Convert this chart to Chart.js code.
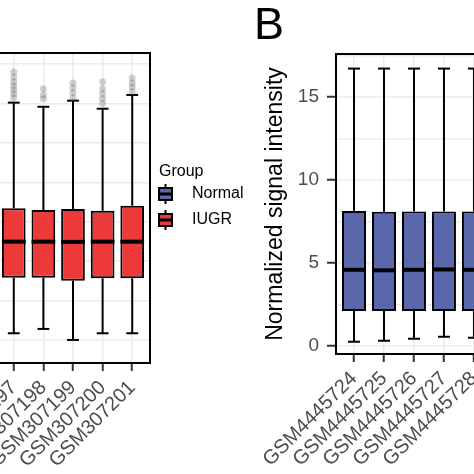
<!DOCTYPE html>
<html>
<head>
<meta charset="utf-8">
<script src="https://cdn.jsdelivr.net/npm/chart.js@4.4.1/dist/chart.umd.min.js"></script>
<style>
  html, body { margin: 0; padding: 0; background: #fff; overflow: hidden; width: 474px; height: 474px; }
  #left { position: absolute; left: -100px; top: 0; }
  #right { position: absolute; left: 250px; top: 0; }
</style>
</head>
<body>
<canvas id="left" width="350" height="474"></canvas>
<canvas id="right" width="400" height="474"></canvas>
<script>
// Panel A: IUGR samples (only the right part of the panel is in view)
const leftSamples = ["GSM307197", "GSM307198", "GSM307199", "GSM307200", "GSM307201"];
const leftPos = [1, 2, 3, 4, 5];
const leftLow = [2.34, 2.56, 2.0, 2.34, 2.34];
const leftQ1 = [5.16, 5.16, 5.01, 5.13, 5.13];
const leftMedian = [6.99, 6.99, 6.98, 6.99, 6.99];
const leftQ3 = [8.69, 8.60, 8.65, 8.56, 8.82];
const leftHigh = [14.05, 13.84, 14.15, 13.74, 14.44];
const leftOutliers = [
  [14.3, 14.5, 14.7, 14.9, 15.1, 15.35, 15.6],
  [14.25, 14.45, 14.75],
  [14.3, 14.55, 14.8, 15.05],
  [14.0, 14.25, 14.5, 14.75, 15.1],
  [14.6, 14.85, 15.05, 15.3]
];
const leftYTicks = [2, 4, 6, 8, 10, 12, 14, 16];

// Panel B: Normal samples
const rightSamples = ["GSM4445724", "GSM4445725", "GSM4445726", "GSM4445727", "GSM4445728"];
const rightPos = [1, 2, 3, 4, 5];
const rightLow = [0.24, 0.3, 0.42, 0.54, 0.48];
const rightQ1 = [2.1, 2.1, 2.1, 2.1, 2.1];
const rightMedian = [4.58, 4.55, 4.58, 4.6, 4.58];
const rightQ3 = [8.13, 8.08, 8.1, 8.1, 8.1];
const rightHigh = [16.72, 16.72, 16.72, 16.72, 16.72];
const rightYTicks = [0, 2.5, 5, 7.5, 10, 12.5, 15, 17.5];
const rightYLabels = ["0", "", "5", "", "10", "", "15", ""];

const groups = ["Normal", "IUGR"];
const groupColors = ["#5A67AA", "#EC3A3A"];

const FONT = '"Liberation Sans", Arial, Helvetica, sans-serif';
const GRID = "#EBEBEB";
const TICK = "#333333";

// whiskers, caps, outliers, medians and panel frame, all through the chart scales
function makeBoxPlugin(d) {
  return {
    id: "boxParts",
    beforeDatasetsDraw(chart) {
      const { ctx, chartArea, scales: { x, y } } = chart;
      const step = x.getPixelForValue(2) - x.getPixelForValue(1);
      ctx.save();
      ctx.beginPath();
      ctx.rect(chartArea.left, chartArea.top, chartArea.width, chartArea.height);
      ctx.clip();
      ctx.strokeStyle = "#000";
      ctx.lineWidth = 2;
      d.pos.forEach((p, i) => {
        const px = x.getPixelForValue(p);
        const cap = step * 0.2;
        [[d.q3[i], d.high[i]], [d.q1[i], d.low[i]]].forEach(([a, b]) => {
          const ya = y.getPixelForValue(a), yb = y.getPixelForValue(b);
          ctx.beginPath(); ctx.moveTo(px, ya); ctx.lineTo(px, yb); ctx.stroke();
          ctx.beginPath(); ctx.moveTo(px - cap, yb); ctx.lineTo(px + cap, yb); ctx.stroke();
        });
        ((d.outliers && d.outliers[i]) || []).forEach(v => {
          ctx.beginPath();
          ctx.arc(px, y.getPixelForValue(v), 3.5, 0, Math.PI * 2);
          ctx.fillStyle = "rgba(100,100,100,0.3)";
          ctx.fill();
        });
      });
      ctx.restore();
    },
    afterDatasetsDraw(chart) {
      const { ctx, chartArea, scales: { x, y } } = chart;
      const bars = chart.getDatasetMeta(0).data;
      ctx.save();
      ctx.strokeStyle = "#000";
      ctx.lineWidth = 4;
      d.pos.forEach((p, i) => {
        const px = x.getPixelForValue(p);
        const w = bars[i].width / 2;
        const ym = y.getPixelForValue(d.median[i]);
        ctx.beginPath(); ctx.moveTo(px - w, ym); ctx.lineTo(px + w, ym); ctx.stroke();
      });
      ctx.lineWidth = 2;
      ctx.strokeRect(chartArea.left, chartArea.top, chartArea.width, chartArea.height);
      ctx.restore();
    }
  };
}

// legend for panel A, drawn at the right of its plot area
const groupLegend = {
  id: "groupLegend",
  afterDraw(chart) {
    const ctx = chart.ctx;
    const x0 = chart.chartArea.right + 9;
    ctx.save();
    ctx.fillStyle = "#000";
    ctx.font = "16px " + FONT;
    ctx.textBaseline = "middle";
    ctx.fillText("Group", x0, 172);
    groups.forEach((g, i) => {
      const cy = 194 + i * 26;
      const cx = x0 + 6.5;
      ctx.strokeStyle = "#000";
      ctx.lineWidth = 2;
      ctx.beginPath(); ctx.moveTo(cx, cy - 10); ctx.lineTo(cx, cy + 10); ctx.stroke();
      ctx.fillStyle = groupColors[i];
      ctx.fillRect(x0, cy - 6, 13, 12);
      ctx.strokeRect(x0, cy - 6, 13, 12);
      ctx.lineWidth = 3;
      ctx.beginPath(); ctx.moveTo(x0, cy); ctx.lineTo(x0 + 13, cy); ctx.stroke();
      ctx.fillStyle = "#000";
      ctx.fillText(g, x0 + 33, cy);
    });
    ctx.restore();
  }
};

function xTickFont() { return { family: FONT, size: 20 }; }
function yTickFont() { return { family: FONT, size: 19 }; }

// Panel A
new Chart(document.getElementById("left"), {
  type: "bar",
  data: {
    datasets: [{
      data: leftPos.map((p, i) => ({ x: p, y: [leftQ1[i], leftQ3[i]] })),
      backgroundColor: groupColors[1],
      borderColor: "#000",
      borderWidth: 2,
      borderSkipped: false,
      barPercentage: 0.8,
      categoryPercentage: 1
    }]
  },
  options: {
    responsive: false,
    animation: false,
    layout: { padding: { left: 0, top: 53, right: 100, bottom: 0 } },
    plugins: { legend: { display: false }, tooltip: { enabled: false } },
    scales: {
      x: {
        type: "linear", min: 0.4, max: 5.6, offset: false,
        afterBuildTicks: s => { s.ticks = leftPos.map(v => ({ value: v })); },
        ticks: {
          autoSkip: false, minRotation: 45, maxRotation: 45, color: "#4D4D4D", font: xTickFont(), padding: 5,
          callback: v => leftSamples[leftPos.indexOf(v)] || ""
        },
        grid: { offset: false, color: GRID, lineWidth: 1.5, tickColor: TICK, tickWidth: 2, tickLength: 8 },
        border: { display: false },
        afterFit: s => { s.height = 111; s.paddingLeft = 0; s.paddingRight = 0; }
      },
      y: {
        min: 0.83, max: 16.57,
        afterBuildTicks: s => { s.ticks = leftYTicks.map(v => ({ value: v })); },
        ticks: { color: "#4D4D4D", font: yTickFont(), padding: 8 },
        grid: { color: GRID, lineWidth: 1.5, tickColor: TICK, tickWidth: 2, tickLength: 9 },
        border: { display: false },
        afterFit: s => { s.width = 96; }
      }
    }
  },
  plugins: [makeBoxPlugin({ pos: leftPos, low: leftLow, q1: leftQ1, median: leftMedian, q3: leftQ3, high: leftHigh, outliers: leftOutliers }), groupLegend]
});

// Panel B
new Chart(document.getElementById("right"), {
  type: "bar",
  data: {
    datasets: [{
      data: rightPos.map((p, i) => ({ x: p, y: [rightQ1[i], rightQ3[i]] })),
      backgroundColor: groupColors[0],
      borderColor: "#000",
      borderWidth: 2,
      borderSkipped: false,
      barPercentage: 0.8,
      categoryPercentage: 1
    }]
  },
  options: {
    responsive: false,
    animation: false,
    layout: { padding: { left: 4, top: 0, right: 0, bottom: 0 } },
    plugins: {
      legend: { display: false },
      tooltip: { enabled: false },
      title: {
        display: true, text: "B", align: "start", color: "#000", padding: 0,
        font: { family: FONT, size: 45, weight: "normal", lineHeight: 1.2 }
      }
    },
    scales: {
      x: {
        type: "linear", min: 0.4, max: 10.87, offset: false,
        afterBuildTicks: s => { s.ticks = rightPos.map(v => ({ value: v })); },
        ticks: {
          autoSkip: false, minRotation: 45, maxRotation: 45, color: "#4D4D4D", font: xTickFont(), padding: 5,
          callback: v => rightSamples[rightPos.indexOf(v)] || ""
        },
        grid: { offset: false, color: GRID, lineWidth: 1.5, tickColor: TICK, tickWidth: 2, tickLength: 8 },
        border: { display: false },
        afterFit: s => { s.height = 120; s.paddingLeft = 0; s.paddingRight = 0; }
      },
      y: {
        min: -0.5, max: 17.6,
        afterBuildTicks: s => { s.ticks = rightYTicks.map(v => ({ value: v })); },
        ticks: { color: "#4D4D4D", font: yTickFont(), padding: 8, callback: (v, i) => rightYLabels[i] },
        grid: {
          color: GRID, lineWidth: 1.5, tickWidth: 2, tickLength: 9,
          tickColor: c => (rightYLabels[c.index] ? TICK : "rgba(0,0,0,0)")
        },
        border: { display: false },
        title: { display: true, text: "Normalized signal intensity", color: "#000", font: { family: FONT, size: 23 }, padding: { top: 8, bottom: 0 } },
        afterFit: s => { s.width = 82; }
      }
    }
  },
  plugins: [makeBoxPlugin({ pos: rightPos, low: rightLow, q1: rightQ1, median: rightMedian, q3: rightQ3, high: rightHigh })]
});
</script>
</body>
</html>
